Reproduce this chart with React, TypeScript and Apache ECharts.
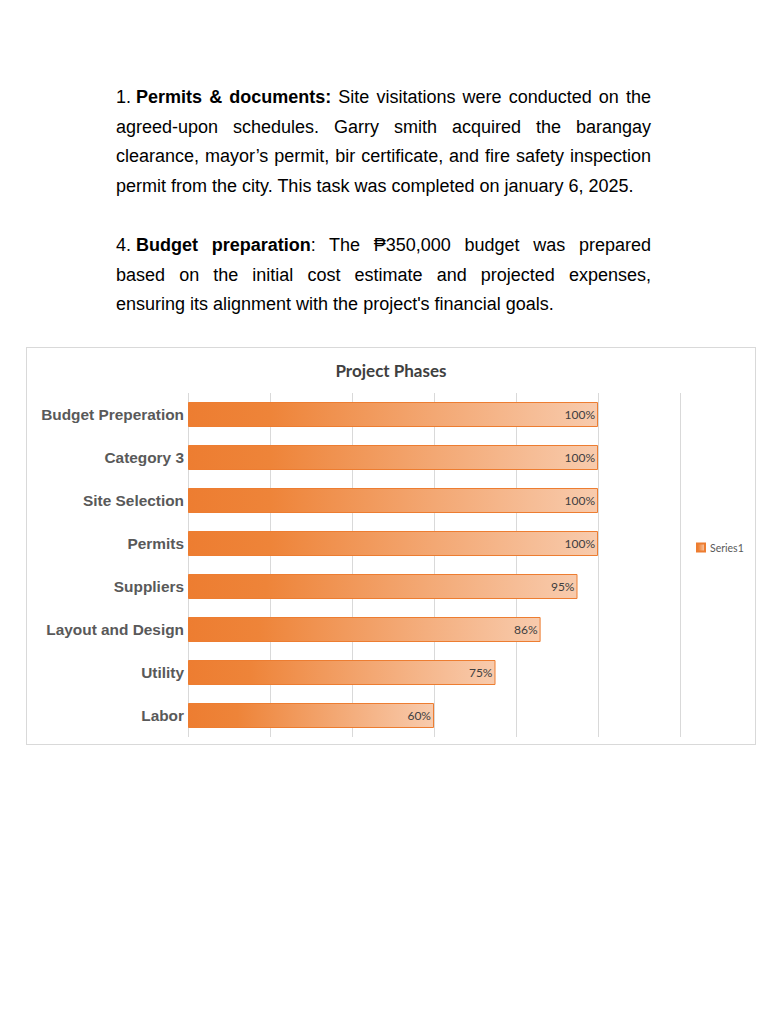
import React, { useEffect, useRef } from "react";
import * as echarts from "echarts";

const categories = [
  "Budget Preperation",
  "Category 3",
  "Site Selection",
  "Permits",
  "Suppliers",
  "Layout and Design",
  "Utility",
  "Labor",
];
const seriesValues = [1.0, 1.0, 1.0, 1.0, 0.95, 0.86, 0.75, 0.6];
const seriesName = "Series1";
const chartTitle = "Project Phases";
const axisTicks = [0, 0.2, 0.4, 0.6, 0.8, 1.0, 1.2];

const para1Rest = [
  "agreed-upon schedules. Garry smith acquired the barangay",
  "clearance, mayor’s permit, bir certificate, and fire safety inspection",
  "permit from the city. This task was completed on january 6, 2025.",
];
const para2Rest = [
  "based on the initial cost estimate and projected expenses,",
  "ensuring its alignment with the project's financial goals.",
];

function Chart() {
  const ref = useRef<HTMLDivElement>(null);
  useEffect(() => {
    if (!ref.current) return;
    const chart = echarts.init(ref.current, undefined, { renderer: "svg" });
    const grad = new echarts.graphic.LinearGradient(0, 0, 1, 0, [
      { offset: 0, color: "#ED7D31" },
      { offset: 0.2, color: "#EE8439" },
      { offset: 1, color: "#F8CBAD" },
    ]);
    chart.setOption({
      animation: false,
      title: {
        text: chartTitle,
        left: "center",
        top: 9,
        textStyle: {
          fontFamily: "Lato",
          fontWeight: "bold",
          fontSize: 17,
          color: "#404040",
        },
      },
      legend: {
        data: [seriesName],
        orient: "vertical",
        left: 664,
        top: 189,
        icon: "rect",
        itemWidth: 8,
        itemHeight: 8,
        itemGap: 4,
        textStyle: { fontFamily: "Lato", fontSize: 10.5, color: "#595959" },
      },
      grid: { left: 161, right: 75, top: 45, bottom: 7, containLabel: false },
      xAxis: {
        type: "value",
        min: axisTicks[0],
        max: axisTicks[axisTicks.length - 1],
        interval: 0.2,
        axisLabel: { show: false },
        axisLine: { show: false },
        axisTick: { show: false },
        splitLine: { show: true, lineStyle: { color: "#D9D9D9", width: 1 } },
      },
      yAxis: {
        type: "category",
        data: categories,
        inverse: true,
        axisLine: { show: false },
        axisTick: { show: false },
        axisLabel: {
          fontFamily: "Liberation Sans",
          fontWeight: "bold",
          fontSize: 15.4,
          color: "#595959",
          margin: 4,
        },
      },
      series: [
        {
          name: seriesName,
          type: "bar",
          data: seriesValues,
          barWidth: 25,
          itemStyle: {
            color: grad,
            borderColor: "#ED7D31",
            borderWidth: 1,
          },
          label: {
            show: true,
            position: "insideRight",
            distance: 3,
            formatter: (p: any) => Math.round(p.value * 100) + "%",
            fontFamily: "Lato",
            fontSize: 12,
            color: "#404040",
          },
        },
      ],
    });
    return () => chart.dispose();
  }, []);
  return <div ref={ref} style={{ width: 728, height: 396 }} />;
}

const paraStyle: React.CSSProperties = {
  position: "absolute",
  left: 116,
  width: 535,
  margin: 0,
  fontFamily: "'Liberation Sans', Arial, sans-serif",
  fontSize: 18,
  lineHeight: "29.5px",
  color: "#000",
};

const lineStyle = (last: boolean): React.CSSProperties => ({
  textAlign: last ? "left" : "justify",
  textAlignLast: last ? "left" : "justify",
  whiteSpace: "nowrap",
});

const numStyle: React.CSSProperties = { display: "inline-block", width: 20 };

export default function App() {
  return (
    <div
      style={{
        position: "absolute",
        left: 0,
        top: 0,
        width: 768,
        height: 1024,
        background: "#fff",
        overflow: "hidden",
      }}
    >
      <div style={{ ...paraStyle, top: 83 }}>
        <div style={{ ...lineStyle(false), whiteSpace: "normal" }}>
          <span style={numStyle}>1.</span>
          <b>Permits &amp; documents:</b>
          <span> Site visitations were conducted on the</span>
        </div>
        {para1Rest.map((l, i) => (
          <div key={i} style={lineStyle(i === para1Rest.length - 1)}>
            {l}
          </div>
        ))}
      </div>
      <div style={{ ...paraStyle, top: 231 }}>
        <div style={{ ...lineStyle(false), whiteSpace: "normal" }}>
          <span style={numStyle}>4.</span>
          <b>Budget preparation</b>
          <span>: The ₱350,000 budget was prepared</span>
        </div>
        {para2Rest.map((l, i) => (
          <div key={i} style={lineStyle(i === para2Rest.length - 1)}>
            {l}
          </div>
        ))}
      </div>
      <div
        style={{
          position: "absolute",
          left: 26,
          top: 347,
          width: 728,
          height: 396,
          border: "1px solid #D9D9D9",
        }}
      >
        <Chart />
      </div>
    </div>
  );
}
